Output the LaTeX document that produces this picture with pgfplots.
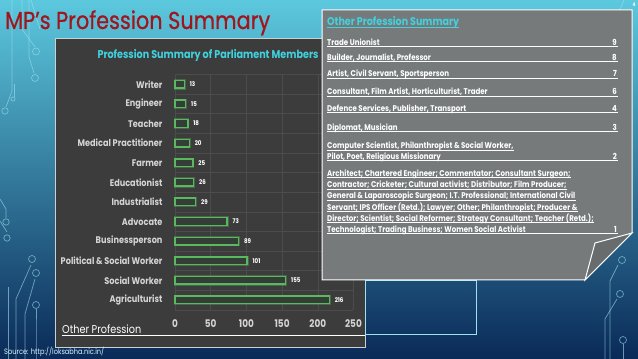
\documentclass[border=0pt]{standalone}
\usepackage{pgfplots}
\pgfplotsset{compat=1.18}
\usepackage{fontspec}
\setmainfont{Poppins}[FakeStretch=0.85]
\definecolor{bgtop}{RGB}{92,200,222}
\definecolor{bgmid}{RGB}{30,134,184}
\definecolor{bgbot}{RGB}{10,42,88}
\definecolor{panel}{RGB}{60,60,60}
\definecolor{panelline}{RGB}{200,210,210}
\definecolor{gridc}{RGB}{76,76,76}
\definecolor{barline}{RGB}{90,185,95}
\definecolor{barfill}{RGB}{52,62,54}
\definecolor{labgray}{RGB}{212,212,212}
\definecolor{titlecyan}{RGB}{64,210,222}
\definecolor{titlered}{RGB}{160,22,30}
\definecolor{rpanel}{RGB}{118,122,123}
\definecolor{flap}{RGB}{104,108,109}
\definecolor{circ}{RGB}{160,225,240}
\newcommand{\rowfont}{\bfseries\fontsize{8.3}{9}\selectfont}
\newcommand{\orow}[3]{%
  \node[anchor=base west,inner sep=0,font=\rowfont,text=white] at (327,{359-#1-2.8}) {#2};
  \node[anchor=base east,inner sep=0,font=\rowfont,text=white] at (617,{359-#1-2.8}) {#3};
  \draw[white,line width=0.6] (327,{359-#1-3.9}) -- (618,{359-#1-3.9});}
\newcommand{\uline}[2]{%
  \node[anchor=base west,inner sep=0,font=\rowfont,text=white] (u) at (327,{359-#1-2.8}) {#2};
  \draw[white,line width=0.6] ([yshift=-1.1pt]u.base west) -- ([yshift=-1.1pt]u.base east);}
\begin{document}
\begin{tikzpicture}[x=1pt,y=1pt]
\useasboundingbox (0,0) rectangle (638,359);
\begin{scope}
\clip (0,0) rectangle (638,359);
\shade[top color=bgtop, middle color=bgmid, bottom color=bgbot] (0,0) rectangle (638,359);
% circuit decorations
\begin{scope}[draw=circ, draw opacity=0.6, line width=0.7]
\draw (12,359)--(12,268)--(6,252); \draw (5,248) circle (3.2);
\draw (22,359)--(22,330)--(35,312); \draw (36,307.5) circle (3.5);
\draw (29,359)--(29,302)--(34,286); \draw (35,281) circle (3.5);
\draw (31,359)--(40,330);
\draw (14,275)--(14,262); \draw (13,260) circle (2);
\draw (0,160)--(6,150)--(6,141); \draw (6,137) circle (3.2);
\draw (0,138)--(7,127); \draw (7,121) circle (3.2);
\draw (8,0)--(8,72);
\draw (16,0)--(16,60)--(31,94); \draw (32,100) circle (3.5);
\draw (25,0)--(25,45)--(35,80); \draw (36,86) circle (3.5);
\draw (36,0)--(36,30)--(36,50); \draw (36,54) circle (3.5);
\draw (618,94)--(610,78)--(610,0); \draw (622,99) circle (3.5);
\draw (617,60)--(605,40)--(605,0); \draw (620,65) circle (3.5);
\draw (623,15)--(623,0); \draw (623,19) circle (3.5);
\draw (624,359)--(616,340);
\end{scope}
\end{scope}
% main title
\node[anchor=base west, inner sep=0, font=\fontsize{24.5}{28}\selectfont\addfontfeature{FakeBold=0.7}, text=titlered] at (5,330) {MP’s Profession Summary};
% chart panel
\fill[panel] (55,12) rectangle (365,321);
\draw[panelline, line width=0.7] (55,12) rectangle (365,321);
\node[font=\bfseries\fontsize{11.3}{12}\selectfont, text=titlecyan] at (208,304) {Profession Summary of Parliament Members};
\begin{axis}[
  at={(175pt,49.2pt)}, anchor=south west, scale only axis,
  width=178.5pt, height=235.3pt,
  xmin=0, xmax=250, ymin=-0.5, ymax=11.5, y dir=reverse,
  xbar, bar width=7.6pt,
  ytick={0,...,11},
  yticklabels={Writer,Engineer,Teacher,Medical Practitioner,Farmer,Educationist,Industrialist,Advocate,Businessperson,Political \& Social Worker,Social Worker,Agriculturist},
  xtick={0,50,100,150,200,250},
  axis line style={draw=none},
  major tick length=0pt, minor tick length=0pt,
  xmajorgrids, yminorgrids,
  minor ytick={-0.5,0.5,...,11.5},
  grid style={gridc,line width=0.5pt},
  minor grid style={gridc,line width=0.5pt},
  tick label style={text=labgray},
  yticklabel style={font=\bfseries\fontsize{9.6}{10}\selectfont, xshift=-9pt},
  xticklabel style={font=\bfseries\fontsize{10.5}{11}\selectfont, yshift=-6pt},
  /pgf/number format/assume math mode=true,
  nodes near coords,
  nodes near coords style={font=\bfseries\fontsize{6.5}{7}\selectfont, text=white, xshift=1.5pt},
  clip=false,
]
\addplot[draw=barline, fill=barfill, line width=1.4pt, preaction={draw=barline, draw opacity=0.35, line width=2.8pt}] coordinates {(13,0) (15,1) (18,2) (20,3) (25,4) (26,5) (29,6) (73,7) (89,8) (101,9) (155,10) (216,11)};
\end{axis}
% other profession label and connector
\node[anchor=base west, inner sep=0, font=\fontsize{11.4}{13}\selectfont, text=white] (op) at (62,25) {Other Profession};
\draw[white, line width=0.7] ([yshift=-1.3pt]op.base west) -- ([yshift=-1.3pt]op.base east);
\draw[white, line width=0.8] ([yshift=-1.3pt]op.base east) -- (365,{25-1.3});
\draw[circ, line width=0.7] (365,25) rectangle (476,79);
% right panel
\fill[rpanel] (322,349) -- (632,349) -- (632,126) -- (585,79) -- (322,79) -- cycle;
\draw[white, line width=1] (322,349) -- (632,349) -- (632,126) -- (585,79) -- (322,79) -- cycle;
\filldraw[fill=flap, draw=white, line width=1] (632,126) -- (595,116) -- (585,79) -- cycle;
\node[anchor=base west, inner sep=0, font=\bfseries\fontsize{11.2}{12}\selectfont, text=titlecyan] (ot) at (327,{359-22-3.8}) {Other Profession Summary};
\draw[titlecyan, line width=0.7] ([yshift=-1.3pt]ot.base west) -- ([yshift=-1.3pt]ot.base east);
\orow{42.3}{Trade Unionist}{9}
\orow{57.3}{Builder, Journalist, Professor}{8}
\orow{74}{Artist, Civil Servant, Sportsperson}{7}
\orow{92}{Consultant, Film Artist, Horticulturist, Trader}{6}
\orow{108.3}{Defence Services, Publisher, Transport}{4}
\orow{127.3}{Diplomat, Musician}{3}
\uline{146}{Computer Scientist, Philanthropist \& Social Worker,}
\orow{156.7}{Pilot, Poet, Religious Missionary}{2}
\uline{173.3}{Architect; Chartered Engineer; Commentator; Consultant Surgeon;}
\uline{185}{Contractor; Cricketer; Cultural activist; Distributor; Film Producer;}
\uline{196}{General \& Laparoscopic Surgeon; I.T. Professional; International Civil}
\uline{207.3}{Servant; IPS Officer (Retd.); Lawyer; Other; Philanthropist; Producer \&}
\uline{218.3}{Director; Scientist; Social Reformer; Strategy Consultant; Teacher (Retd.);}
\orow{229.3}{Technologist; Trading Business; Women Social Activist}{1}
% source and slide number
\node[anchor=base west, inner sep=0, font=\fontsize{7.8}{8}\selectfont, text=white!85!cyan] at (4,4) {Source: http://loksabha.nic.in/};
\node[anchor=base, inner sep=0, font=\bfseries\fontsize{5}{6}\selectfont, text=white] at (634,352) {4};
\end{tikzpicture}
\end{document}
